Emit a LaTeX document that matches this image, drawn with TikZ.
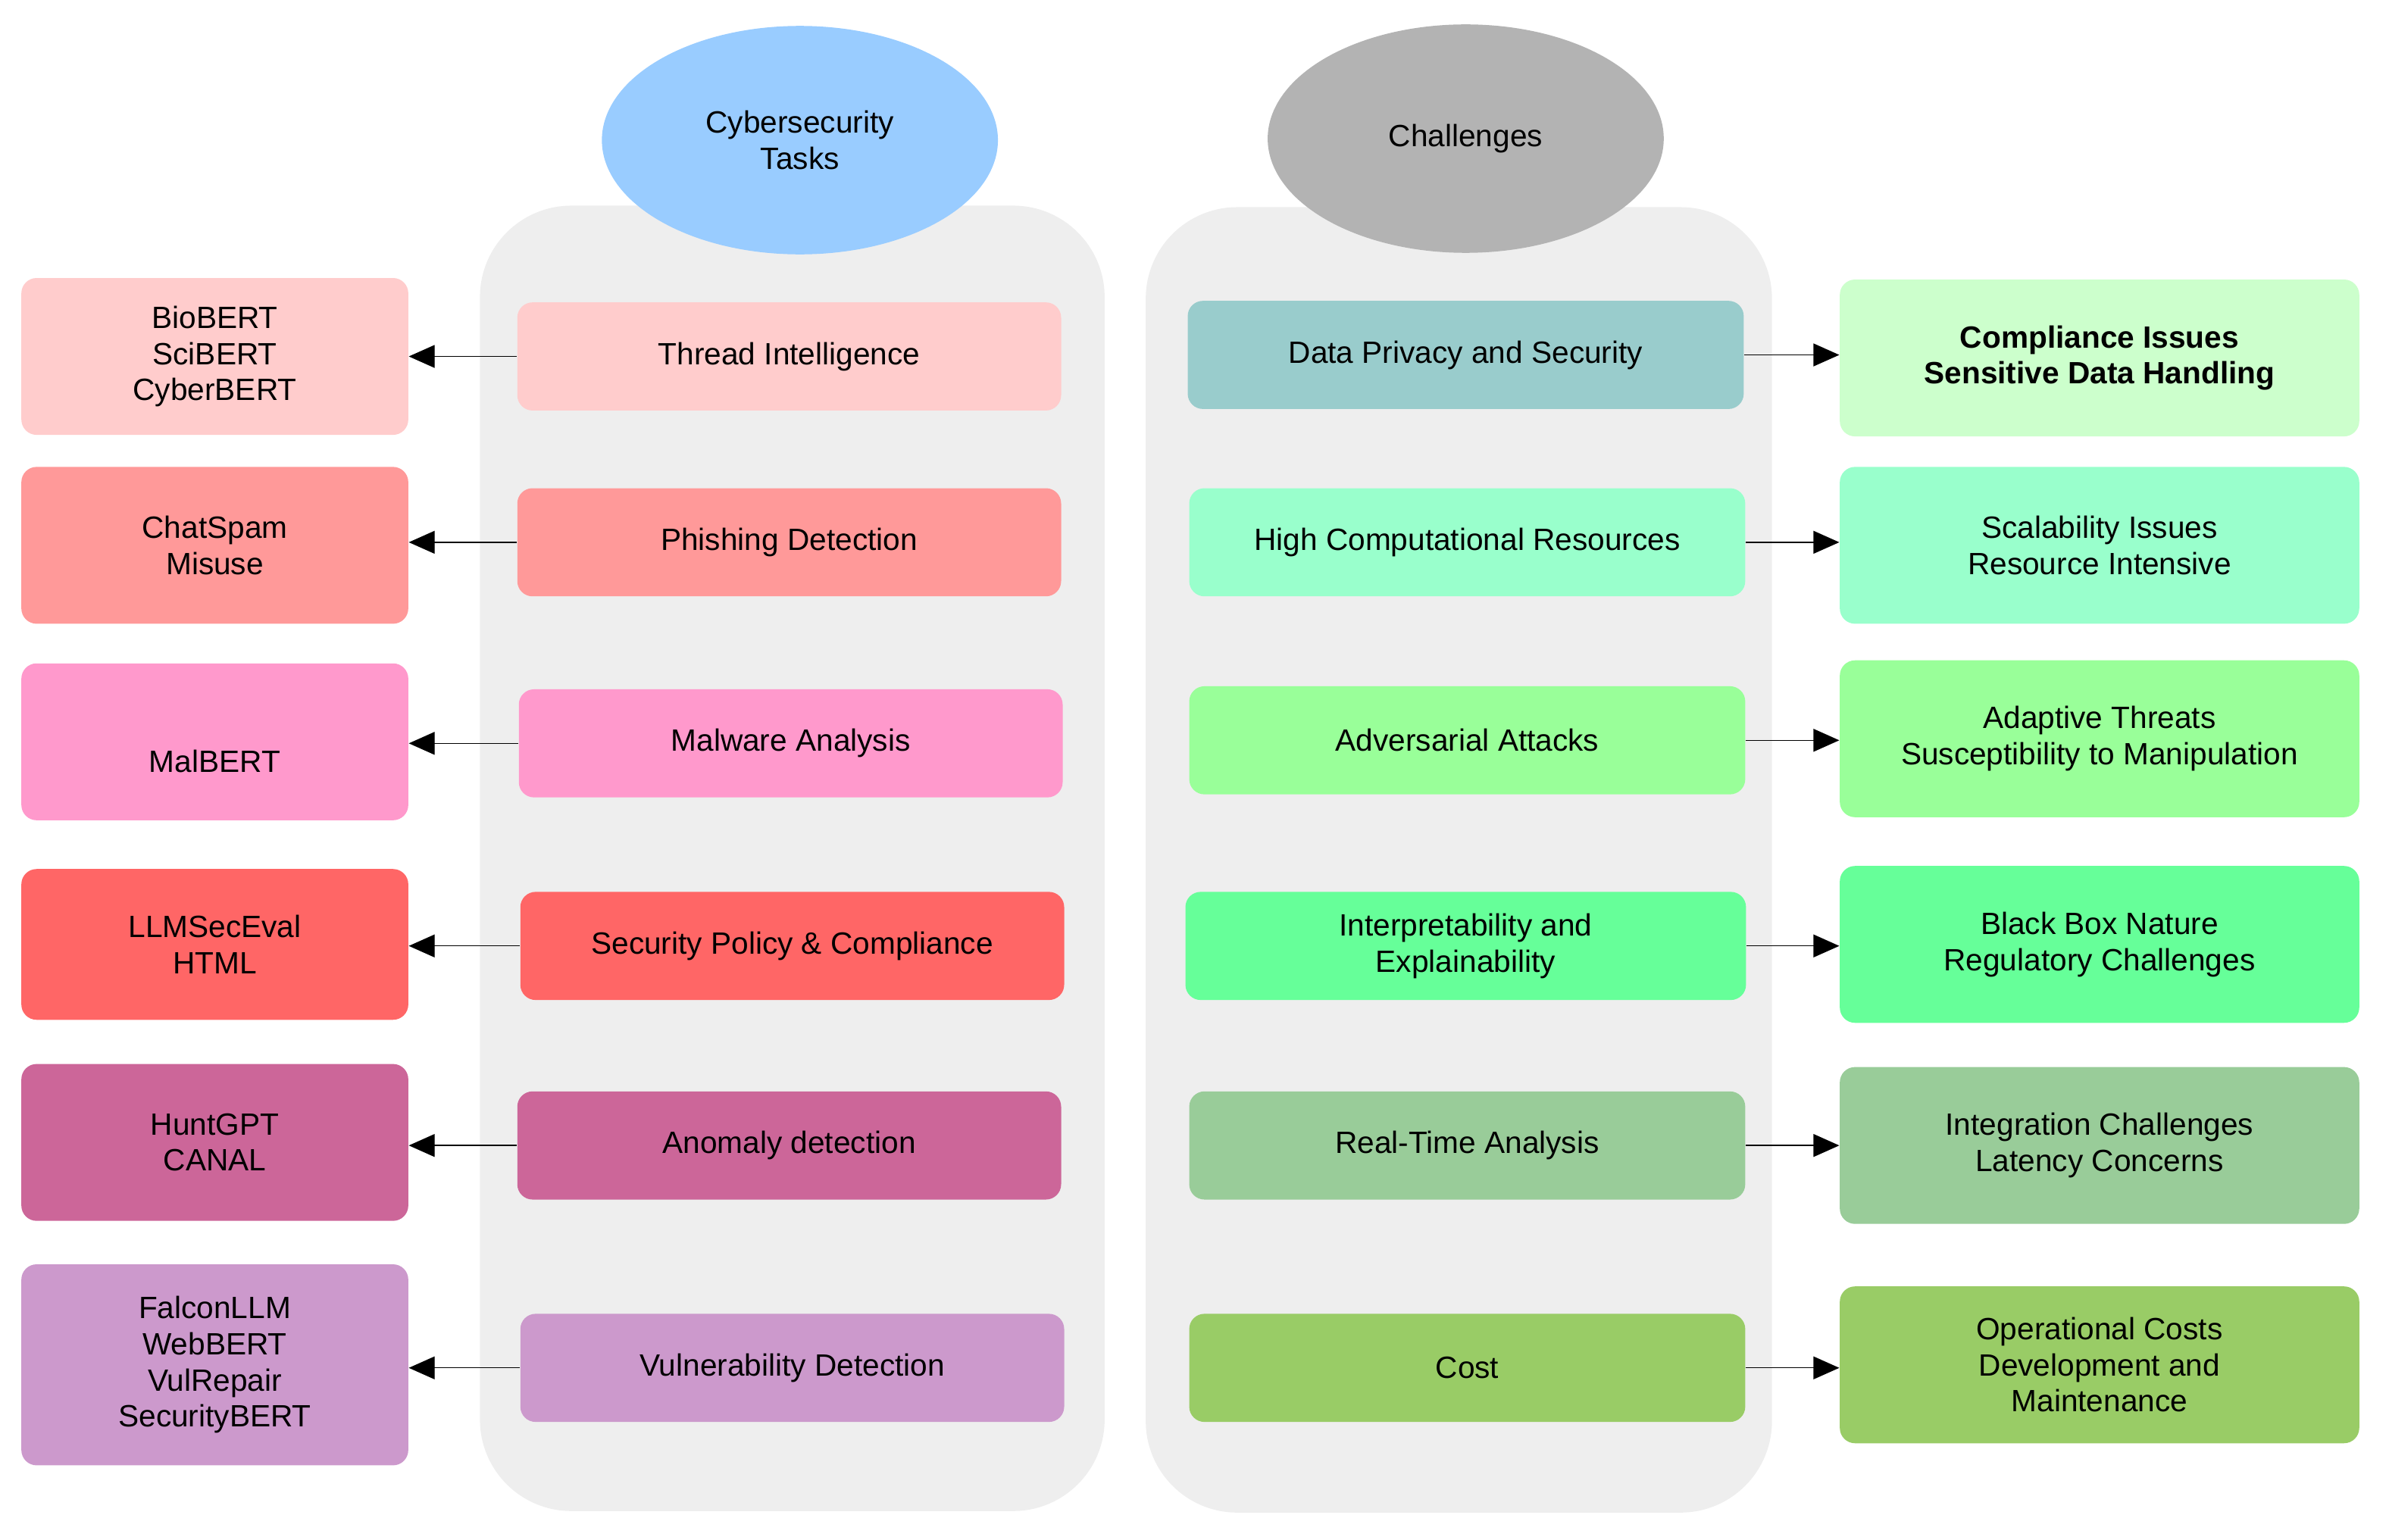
\documentclass[tikz,border=0pt]{standalone}
\usepackage{fontspec}
\setmainfont{Liberation Sans}
\usetikzlibrary{arrows.meta, shapes.geometric}
\definecolor{cA}{HTML}{FFCCCC}\definecolor{cB}{HTML}{FF9999}
\definecolor{cC}{HTML}{FF99CC}\definecolor{cD}{HTML}{FF6666}
\definecolor{cE}{HTML}{CC6699}\definecolor{cF}{HTML}{CC99CC}
\definecolor{dA}{HTML}{99CCCC}\definecolor{dB}{HTML}{99FFCC}
\definecolor{dC}{HTML}{99FF99}\definecolor{dD}{HTML}{66FF99}
\definecolor{dE}{HTML}{99CC99}\definecolor{dF}{HTML}{99CC66}
\definecolor{eA}{HTML}{CCFFCC}
\definecolor{skyb}{HTML}{99CCFF}\definecolor{grayc}{HTML}{B3B3B3}
\definecolor{panel}{HTML}{EEEEEE}
\tikzset{
  box/.style={rectangle, rounded corners=0.2cm, align=center, font=\fontsize{11.5}{13.5}\selectfont, inner sep=0pt},
  mid/.style={box, minimum width=7.14cm, minimum height=1.42cm},
  rmid/.style={box, minimum width=7.3cm, minimum height=1.42cm},
  lout/.style={box, minimum width=5.08cm, minimum height=2.06cm},
  rout/.style={box, minimum width=6.82cm, minimum height=2.06cm},
  oval/.style={ellipse, minimum width=5.2cm, minimum height=3cm, align=center, font=\fontsize{11.5}{13.5}\selectfont},
  conn/.style={thin, -{Triangle[length=0.34cm,width=0.3cm]}},
}
\begin{document}
\begin{tikzpicture}[x=0.02cm,y=-0.02cm]
\useasboundingbox (0,0) rectangle (1568,1011);
\fill[panel, rounded corners=1.2cm] (315,135) rectangle (725,992);
\fill[panel, rounded corners=1.2cm] (752,136) rectangle (1163,993);
\node[oval, fill=skyb] (ct) at (525,92) {Cybersecurity\\Tasks};
\node[oval, fill=grayc] (ch) at (962,91) {Challenges};
% left column
\node[mid, fill=cA] (t1) at (518,234) {Thread Intelligence};
\node[mid, fill=cB] (t2) at (518,356) {Phishing Detection};
\node[mid, fill=cC] (t3) at (519,488) {Malware Analysis};
\node[mid, fill=cD] (t4) at (520,621) {Security Policy \& Compliance};
\node[mid, fill=cE] (t5) at (518,752) {Anomaly detection};
\node[mid, fill=cF] (t6) at (520,898) {Vulnerability Detection};
\node[lout, fill=cA] (m1) at (141,234) {BioBERT\\SciBERT\\CyberBERT};
\node[lout, fill=cB] (m2) at (141,358) {ChatSpam\\Misuse};
\node[lout, fill=cC] (m3) at (141,487) {\strut\\MalBERT};
\node[lout, fill=cD, minimum height=1.98cm] (m4) at (141,620) {LLMSecEval\\HTML};
\node[lout, fill=cE] (m5) at (141,750) {HuntGPT\\CANAL};
\node[lout, fill=cF, minimum height=2.64cm] (m6) at (141,896) {FalconLLM\\WebBERT\\VulRepair\\SecurityBERT};
\foreach \i in {1,...,6} \draw[conn] (t\i.west) -- (t\i.west -| m\i.east);
% right column
\node[rmid, fill=dA] (c1) at (962,233) {Data Privacy and Security};
\node[rmid, fill=dB] (c2) at (963,356) {High Computational Resources};
\node[rmid, fill=dC] (c3) at (963,486) {Adversarial Attacks};
\node[rmid, fill=dD, minimum width=7.36cm] (c4) at (962,621) {Interpretability and\\Explainability};
\node[rmid, fill=dE] (c5) at (963,752) {Real-Time Analysis};
\node[rmid, fill=dF] (c6) at (963,898) {Cost};
\node[rout, fill=eA] (r1) at (1378,235) {\textbf{Compliance Issues}\\\textbf{Sensitive Data Handling}};
\node[rout, fill=dB] (r2) at (1378,358) {Scalability Issues\\Resource Intensive};
\node[rout, fill=dC] (r3) at (1378,485) {Adaptive Threats\\Susceptibility to Manipulation};
\node[rout, fill=dD] (r4) at (1378,620) {Black Box Nature\\Regulatory Challenges};
\node[rout, fill=dE] (r5) at (1378,752) {Integration Challenges\\Latency Concerns};
\node[rout, fill=dF] (r6) at (1378,896) {Operational Costs\\Development and\\Maintenance};
\foreach \i in {1,...,6} \draw[conn] (c\i.east) -- (c\i.east -| r\i.west);
\end{tikzpicture}
\end{document}
